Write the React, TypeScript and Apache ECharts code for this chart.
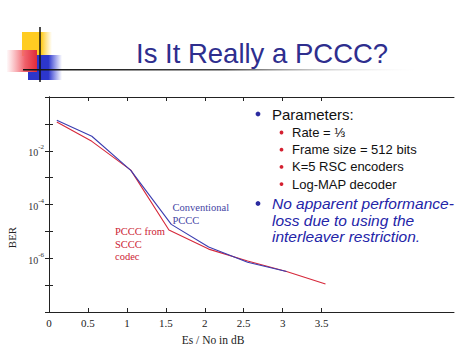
import React, { useEffect, useRef } from "react";
import * as echarts from "echarts";

// ---- data ----
const xTicks = [0, 0.5, 1, 1.5, 2, 2.5, 3, 3.5];
const yLabelExponents = [-2, -4, -6];
const conventionalX = [0.1, 0.55, 1.05, 1.57, 2.05, 2.55, 3.05];
const conventionalBER = [0.135, 0.0347, 1.86e-3, 1.82e-5, 2.63e-6, 7.1e-7, 3.2e-7];
const scccX = [0.1, 0.55, 1.05, 1.54, 2.05, 2.55, 3.05, 3.55];
const scccBER = [0.117, 0.0224, 1.9e-3, 1.12e-5, 2.19e-6, 7.9e-7, 3.2e-7, 1.1e-7];
const titleText = "Is It Really a PCCC?";
const mainBullet = "Parameters:";
const subBullets = ["Rate = ⅓", "Frame size = 512 bits", "K=5 RSC encoders", "Log-MAP decoder"];
const noteLines = ["No apparent performance-", "loss due to using the", "interleaver restriction."];
const conventionalLabel = ["Conventional", "PCCC"];
const scccLabel = ["PCCC from", "SCCC", "codec"];
const xName = "Es / No in dB";
const yName = "BER";

const BLUE_LINE = "#3a3cb0";
const RED_LINE = "#d6283a";
const SERIF = "'Liberation Serif', 'Times New Roman', serif";
const SANS = "'Liberation Sans', Arial, sans-serif";

export default function App() {
  const ref = useRef<HTMLDivElement>(null);
  useEffect(() => {
    if (!ref.current) return;
    const chart = echarts.init(ref.current, undefined, { renderer: "svg" });
    const axisCommon = {
      axisLine: { show: true, lineStyle: { color: "#222", width: 1 } },
      splitLine: { show: false },
    };
    const graphic: any[] = [];
    // decorative squares
    graphic.push({
      type: "rect", shape: { x: 22, y: 32, width: 30, height: 24 },
      style: { fill: new echarts.graphic.LinearGradient(0, 0, 1, 0, [
        { offset: 0, color: "#ffcc22" }, { offset: 0.65, color: "#ffcc22" }, { offset: 1, color: "rgba(255,210,60,0)" }]) },
    });
    graphic.push({
      type: "rect", shape: { x: 28, y: 55, width: 34, height: 25 },
      style: { fill: new echarts.graphic.LinearGradient(0, 0, 1, 0, [
        { offset: 0, color: "#2c36cc" }, { offset: 0.6, color: "#2c36cc" }, { offset: 1, color: "rgba(60,70,220,0)" }]) },
    });
    graphic.push({
      type: "rect", shape: { x: 7, y: 50, width: 30, height: 22 },
      style: { fill: new echarts.graphic.LinearGradient(0, 0, 1, 0, [
        { offset: 0, color: "rgba(245,120,130,0.05)" }, { offset: 0.6, color: "#f0606a" }, { offset: 1, color: "#e02a38" }]) },
    });
    graphic.push({ type: "line", shape: { x1: 40, y1: 27, x2: 40, y2: 82 }, style: { stroke: "#111", lineWidth: 1.5 } });
    graphic.push({
      type: "rect", shape: { x: 23, y: 69, width: 402, height: 1.6 },
      style: { fill: new echarts.graphic.LinearGradient(0, 0, 1, 0, [
        { offset: 0, color: "#111" }, { offset: 0.5, color: "#444" }, { offset: 1, color: "rgba(255,255,255,0)" }]) },
    });
    // title
    graphic.push({
      type: "text", x: 136, y: 53,
      style: { text: titleText, font: `27.5px ${SANS}`, fill: "#2e2e8e", verticalAlign: "middle", align: "left" },
    });
    // bullets
    graphic.push({ type: "circle", shape: { cx: 258, cy: 114, r: 2.4 }, style: { fill: "#2a2aa0" } });
    graphic.push({
      type: "text", x: 272, y: 114,
      style: { text: mainBullet, font: `15px ${SANS}`, fill: "#111", verticalAlign: "middle" },
    });
    subBullets.forEach((t, i) => {
      const y = 132.5 + i * 17.2;
      graphic.push({ type: "circle", shape: { cx: 281.5, cy: y, r: 1.9 }, style: { fill: "#d42030" } });
      graphic.push({
        type: "text", x: 292, y,
        style: { text: t, font: `13px ${SANS}`, fill: "#111", verticalAlign: "middle" },
      });
    });
    graphic.push({ type: "circle", shape: { cx: 258, cy: 203.5, r: 2.4 }, style: { fill: "#2a2aa0" } });
    noteLines.forEach((t, i) => {
      graphic.push({
        type: "text", x: 272, y: 203.5 + i * 16.7,
        style: { text: t, font: `italic 15.5px ${SANS}`, fill: "#2424a8", verticalAlign: "middle" },
      });
    });
    // plot annotations
    conventionalLabel.forEach((t, i) => {
      graphic.push({
        type: "text", x: 172.5, y: 207.5 + i * 12.5,
        style: { text: t, font: `10.5px ${SERIF}`, fill: "#4444a4", verticalAlign: "middle" },
      });
    });
    scccLabel.forEach((t, i) => {
      graphic.push({
        type: "text", x: 115, y: 231.5 + i * 12.5,
        style: { text: t, font: `10.5px ${SERIF}`, fill: "#cc2233", verticalAlign: "middle" },
      });
    });
    graphic.push({
      type: "text", x: 213, y: 340,
      style: { text: xName, font: `11.5px ${SERIF}`, fill: "#222", align: "center", verticalAlign: "middle" },
    });
    graphic.push({
      type: "text", x: 12, y: 237.5, rotation: Math.PI / 2,
      style: { text: yName, font: `11px ${SERIF}`, fill: "#222", align: "center", verticalAlign: "middle" },
    });

    const yAxisBase = {
      type: "log", logBase: 10, min: 1e-8, max: 1, splitNumber: 8,
      ...axisCommon,
      axisTick: { show: true, inside: true, length: 4, lineStyle: { color: "#222" } },
    };
    const option: any = {
      animation: false,
      backgroundColor: "#fff",
      grid: { left: 49, right: 20, top: 97, bottom: 43, containLabel: false },
      xAxis: [
        {
          type: "value", min: 0, max: 5.2, position: "bottom", ...axisCommon,
          axisTick: { show: true, inside: true, length: 4, customValues: xTicks, lineStyle: { color: "#222" } },
          axisLabel: {
            show: true, customValues: xTicks, margin: 5, color: "#222",
            fontFamily: SERIF, fontSize: 11, formatter: (v: number) => String(v),
          },
        },
        {
          type: "value", min: 0, max: 5.2, position: "top", ...axisCommon,
          axisTick: { show: true, inside: true, length: 4, customValues: xTicks, lineStyle: { color: "#222" } },
          axisLabel: { show: false },
        },
      ],
      yAxis: [
        {
          ...yAxisBase, position: "left",
          axisLabel: {
            show: true, margin: 5, color: "#333", fontFamily: SERIF,
            formatter: (v: number) => {
              const e = Math.round(Math.log10(v));
              return yLabelExponents.includes(e) ? `{b|10}{s|${e}}` : "";
            },
            rich: {
              b: { fontSize: 10, fontFamily: SERIF, color: "#333", lineHeight: 14, verticalAlign: "bottom" },
              s: { fontSize: 7, fontFamily: SERIF, color: "#333", lineHeight: 8, verticalAlign: "top" },
            },
          },
        },
        { ...yAxisBase, position: "right", axisLabel: { show: false } },
      ],
      series: [
        {
          name: "Conventional PCCC", type: "line", xAxisIndex: 0, yAxisIndex: 0,
          data: conventionalX.map((x, i) => [x, conventionalBER[i]]),
          showSymbol: false, symbol: "none",
          lineStyle: { color: BLUE_LINE, width: 1.1 }, z: 3,
        },
        {
          name: "PCCC from SCCC codec", type: "line", xAxisIndex: 0, yAxisIndex: 0,
          data: scccX.map((x, i) => [x, scccBER[i]]),
          showSymbol: false, symbol: "none",
          lineStyle: { color: RED_LINE, width: 1.1 }, z: 2,
        },
      ],
      graphic,
    };
    chart.setOption(option);
    return () => chart.dispose();
  }, []);
  return (
    <div
      ref={ref}
      style={{ position: "absolute", left: 0, top: 0, width: 474, height: 355, background: "#fff" }}
    />
  );
}
